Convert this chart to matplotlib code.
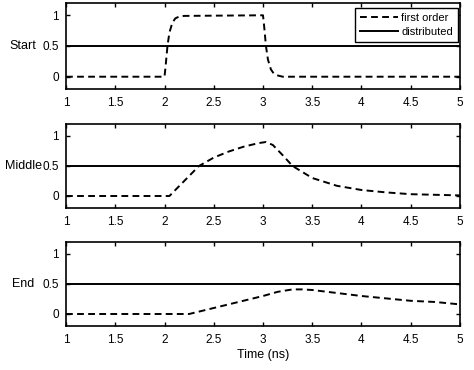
import matplotlib
matplotlib.use("Agg")
import matplotlib.pyplot as plt

plt.rcParams['font.family'] = ['Liberation Sans', 'DejaVu Sans']

# Data
t_start = [1.0, 2.0, 2.01, 2.03, 2.05, 2.08, 2.11, 2.15, 2.2, 3.0, 3.01, 3.03, 3.05, 3.08, 3.11, 3.15, 3.2, 5.0]
v_start = [0.0, 0.0, 0.15, 0.5, 0.72, 0.88, 0.95, 0.98, 0.99, 1.0, 0.85, 0.5, 0.28, 0.12, 0.05, 0.02, 0.0, 0.0]

t_middle = [1.0, 2.05, 2.2, 2.35, 2.5, 2.65, 2.8, 2.95, 3.03, 3.1, 3.2, 3.3, 3.5, 3.75, 4.0, 4.25, 4.5, 4.75, 5.0]
v_middle = [0.0, 0.0, 0.25, 0.5, 0.64, 0.74, 0.82, 0.88, 0.9, 0.85, 0.68, 0.5, 0.3, 0.17, 0.1, 0.06, 0.03, 0.02, 0.01]

t_end = [1.0, 2.25, 2.5, 2.75, 3.0, 3.15, 3.3, 3.4, 3.5, 3.75, 4.0, 4.25, 4.5, 4.75, 5.0]
v_end = [0.0, 0.0, 0.1, 0.2, 0.3, 0.37, 0.41, 0.41, 0.4, 0.35, 0.3, 0.26, 0.22, 0.2, 0.16]

t_dist = [1.0, 5.0]
v_dist = [0.5, 0.5]

panel_names = ["Start", "Middle", "End"]
first_order = [(t_start, v_start), (t_middle, v_middle), (t_end, v_end)]

xticks = [1, 1.5, 2, 2.5, 3, 3.5, 4, 4.5, 5]
xticklabels = ["1", "1.5", "2", "2.5", "3", "3.5", "4", "4.5", "5"]
yticks = [0, 0.5, 1]
yticklabels = ["0", "0.5", "1"]

fig = plt.figure(figsize=(4.74, 3.70), dpi=100)
W, H = 474, 370
axes_px = [(3, 89), (124, 208), (242, 326)]
left, right = 66, 460

for i, (name, (tx, vy)) in enumerate(zip(panel_names, first_order)):
    top, bot = axes_px[i]
    ax = fig.add_axes([left / W, 1 - bot / H, (right - left) / W, (bot - top) / H])
    ax.plot(tx, vy, color='black', linestyle=(0, (3.5, 2.2)), linewidth=1.4, label='first order')
    ax.plot(t_dist, v_dist, color='black', linestyle='-', linewidth=1.4, label='distributed')
    ax.set_xlim(1, 5)
    ax.set_ylim(-0.2, 1.2)
    ax.set_xticks(xticks)
    ax.set_xticklabels(xticklabels)
    ax.set_yticks(yticks)
    ax.set_yticklabels(yticklabels)
    ax.tick_params(direction='in', top=True, right=True, length=3, width=1,
                   labelsize=8.5, pad=6)
    ax.tick_params(axis='y', pad=5)
    for s in ax.spines.values():
        s.set_linewidth(1.2)
    ax.set_ylabel(name, rotation=0, fontsize=9, ha='right', va='center')
    xoff = {"Start": -0.075, "Middle": -0.062, "End": -0.08}[name]
    ax.yaxis.set_label_coords(xoff, 0.7 / 1.4)
    if i == 0:
        leg = ax.legend(loc='upper right', bbox_to_anchor=(0.995, 0.94), fontsize=8,
                        frameon=True, fancybox=False, framealpha=1,
                        edgecolor='black', borderaxespad=0.0, handlelength=3.4,
                        handletextpad=0.3, borderpad=0.45, labelspacing=0.35)
        leg.get_frame().set_linewidth(1.0)
    if i == 2:
        ax.set_xlabel("Time (ns)", fontsize=9, labelpad=2)

fig.savefig("out.png", dpi=100)
